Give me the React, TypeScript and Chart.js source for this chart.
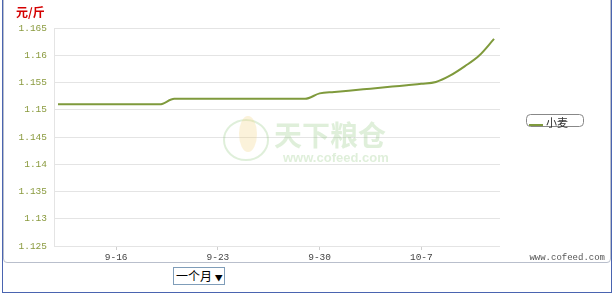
import React, { useEffect, useRef } from "react";
import { Chart, registerables } from "chart.js";

Chart.register(...registerables);

const dates = [
  "9-12", "9-13", "9-14", "9-15", "9-16", "9-17", "9-18", "9-19", "9-20", "9-21",
  "9-22", "9-23", "9-24", "9-25", "9-26", "9-27", "9-28", "9-29", "9-30", "10-1",
  "10-2", "10-3", "10-4", "10-5", "10-6", "10-7", "10-8", "10-9", "10-10", "10-11",
  "10-12",
];
const wheat = [
  1.151, 1.151, 1.151, 1.151, 1.151, 1.151, 1.151, 1.151, 1.152, 1.152,
  1.152, 1.152, 1.152, 1.152, 1.152, 1.152, 1.152, 1.152, 1.153, 1.15325,
  1.1535, 1.15375, 1.154, 1.15425, 1.1545, 1.15475, 1.1551, 1.1563, 1.158, 1.16,
  1.163,
];
const xTickLabels = ["9-16", "9-23", "9-30", "10-7"];
const seriesName = "小麦";
const unitLabel = "元/斤";
const yMin = 1.125;
const yMax = 1.165;
const yStep = 0.005;

const lineColor = "#7f9a3c";

const decorPlugin = {
  id: "decor",
  beforeDatasetsDraw(chart: any) {
    const ctx = chart.ctx;
    ctx.save();
    // watermark logo
    ctx.globalAlpha = 0.28;
    ctx.strokeStyle = "#8cc47a";
    ctx.lineWidth = 2;
    ctx.beginPath();
    ctx.ellipse(246, 140, 22, 20, 0, 0, Math.PI * 2);
    ctx.stroke();
    ctx.fillStyle = "#f2d27a";
    ctx.beginPath();
    ctx.ellipse(248, 134, 9, 18, 0, 0, Math.PI * 2);
    ctx.fill();
    ctx.fillStyle = "#8cc47a";
    ctx.font = "bold 28px 'Noto Sans CJK SC'";
    ctx.textBaseline = "alphabetic";
    ctx.textAlign = "left";
    ctx.fillText("天下粮仓", 274, 146);
    ctx.font = "bold 13px 'Liberation Sans'";
    ctx.fillText("www.cofeed.com", 283, 162);
    ctx.restore();
  },
  afterDraw(chart: any) {
    const ctx = chart.ctx;
    ctx.save();
    // unit title
    ctx.fillStyle = "#d40000";
    ctx.font = "bold 12px 'Noto Sans CJK SC'";
    ctx.textAlign = "left";
    ctx.textBaseline = "middle";
    ctx.fillText(unitLabel, 16, 12);
    // legend
    ctx.strokeStyle = "#888";
    ctx.lineWidth = 1;
    ctx.beginPath();
    (ctx as any).roundRect(526.5, 114.5, 57, 12, 4);
    ctx.stroke();
    ctx.strokeStyle = lineColor;
    ctx.lineWidth = 2;
    ctx.beginPath();
    ctx.moveTo(529, 125);
    ctx.lineTo(543, 125);
    ctx.stroke();
    ctx.fillStyle = "#333";
    ctx.font = "11px 'Noto Sans CJK SC'";
    ctx.textBaseline = "middle";
    ctx.fillText(seriesName, 546, 123);
    // site text
    ctx.fillStyle = "#555";
    ctx.font = "9px 'Liberation Mono'";
    ctx.textAlign = "right";
    ctx.fillText("www.cofeed.com", 605, 258);
    ctx.restore();
  },
};

export default function App() {
  const ref = useRef<HTMLCanvasElement>(null);
  useEffect(() => {
    if (!ref.current) return;
    const points = wheat.map((v, i) => ({ x: i, y: v }));
    const tickIdx = xTickLabels.map((l) => dates.indexOf(l));
    const chart = new Chart(ref.current, {
      type: "line",
      data: {
        datasets: [
          {
            label: seriesName,
            data: points,
            borderColor: lineColor,
            borderWidth: 2,
            pointRadius: 0,
            cubicInterpolationMode: "monotone",
            fill: false,
          },
        ],
      },
      options: {
        responsive: false,
        animation: false,
        devicePixelRatio: 1,
        layout: { padding: { left: 0, top: 28, right: 116, bottom: 31 } },
        plugins: { legend: { display: false }, tooltip: { enabled: false } },
        scales: {
          x: {
            type: "linear",
            min: -0.275,
            max: 30.41,
            afterFit: (s: any) => {
              s.height = 20;
            },
            afterBuildTicks: (s: any) => {
              s.ticks = tickIdx.map((v) => ({ value: v }));
            },
            ticks: {
              autoSkip: false,
              maxRotation: 0,
              padding: 2,
              color: "#444",
              font: { family: "'Liberation Mono'", size: 9.5 },
              callback: (v: any) => dates[v],
            },
            grid: {
              drawOnChartArea: false,
              drawTicks: true,
              tickLength: 4,
              color: "#cfcfcf",
            },
            border: { display: false },
          },
          y: {
            min: yMin,
            max: yMax,
            afterFit: (s: any) => {
              s.width = 54;
            },
            afterBuildTicks: (s: any) => {
              const t = [];
              for (let v = yMin; v <= yMax + 1e-9; v += yStep) t.push({ value: +v.toFixed(3) });
              s.ticks = t;
            },
            ticks: {
              padding: 7,
              color: "#8a9a3e",
              font: { family: "'Liberation Mono'", size: 9.5 },
              callback: (v: any) => String(+(+v).toFixed(3)),
            },
            grid: { color: "#e4e4e4", drawTicks: false },
            border: { display: true, color: "#e4e4e4" },
          },
        },
      },
      plugins: [decorPlugin],
    } as any);
    return () => chart.destroy();
  }, []);

  return (
    <div style={{ position: "fixed", left: 0, top: 0, width: 616, height: 297, background: "#fff", overflow: "hidden" }}>
      <div
        style={{
          position: "absolute",
          left: 2,
          top: -4,
          width: 610,
          height: 297,
          border: "1px solid #4a64b0",
          boxSizing: "border-box",
        }}
      />
      <div
        style={{
          position: "absolute",
          left: 3,
          top: -6,
          width: 608,
          height: 269,
          border: "1px solid #b9bfcc",
          borderRadius: 4,
          boxSizing: "border-box",
        }}
      />
      <canvas ref={ref} width={616} height={297} style={{ position: "absolute", left: 0, top: 0 }} />
      <div
        style={{
          position: "absolute",
          left: 173,
          top: 267,
          width: 52,
          height: 18,
          border: "1px solid #7f9db9",
          boxSizing: "border-box",
          background: "#fff",
          font: "12px 'Noto Sans CJK SC'",
          lineHeight: "16px",
          color: "#000",
          paddingLeft: 2,
          whiteSpace: "nowrap",
        }}
      >
        一个月 <span style={{ fontSize: 8 }}>▼</span>
      </div>
    </div>
  );
}
